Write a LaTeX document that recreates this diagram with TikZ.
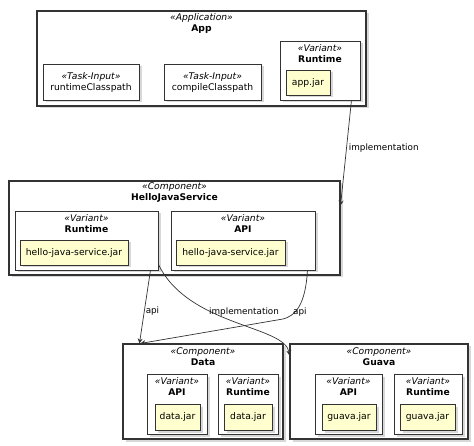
\documentclass[tikz,border=0pt]{standalone}
\usepackage{fontspec}
\setmainfont{DejaVu Sans}
\usetikzlibrary{arrows.meta,shadows,calc}
\definecolor{umlborder}{HTML}{333333}
\definecolor{jarfill}{HTML}{FEFECE}
\begin{document}
\begin{tikzpicture}[x=1pt,y=-1pt,
  every node/.style={font=\fontsize{9.2}{11}\selectfont},
  boxshadow/.style={drop shadow={shadow xshift=2.5pt,shadow yshift=-2.5pt,fill=black!30,opacity=0.5}},
  container/.style={draw=umlborder,line width=1.1pt,fill=white,inner sep=0pt,boxshadow},
  variant/.style={draw=umlborder,line width=0.9pt,fill=white,inner sep=0pt,boxshadow},
  taskbox/.style={draw=umlborder,line width=0.9pt,fill=white,inner sep=0pt,align=center,boxshadow},
  jar/.style={draw=umlborder,line width=0.8pt,fill=jarfill,inner sep=0pt,boxshadow},
  title/.style={align=center,inner sep=0pt},
  dep/.style={draw=umlborder,line width=0.7pt,-{Stealth[length=5pt,width=5pt]}},
  deplabel/.style={font=\fontsize{8.8}{10}\selectfont,inner sep=1pt}
]
\useasboundingbox (0,0) rectangle (474,446);

% App
\node[container,minimum width=329pt,minimum height=95pt] (app) at (201.5,58.5) {};
\node[title] (appT) at (201.5,23.5) {\textit{«Application»}\\\textbf{App}};
\node[taskbox,minimum width=96pt,minimum height=36pt] (rcp) at (91,82) {\textit{«Task-Input»}\\runtimeClasspath};
\node[taskbox,minimum width=97pt,minimum height=36pt] (ccp) at (212.5,82) {\textit{«Task-Input»}\\compileClasspath};
\node[variant,minimum width=80pt,minimum height=59pt] (appRT) at (320,70.5) {};
\node[title] (appRTT) at (320,53.5) {\textit{«Variant»}\\\textbf{Runtime}};
\node[jar,minimum width=44pt,minimum height=25pt] (appjar) at (308,82.5) {app.jar};

% HelloJavaService
\node[container,minimum width=331pt,minimum height=94pt] (hjs) at (174.5,228) {};
\node[title] (hjsT) at (174.5,193) {\textit{«Component»}\\\textbf{HelloJavaService}};
\node[variant,minimum width=143pt,minimum height=59pt] (hjsRT) at (86.5,240.5) {};
\node[title] (hjsRTT) at (86.5,223.5) {\textit{«Variant»}\\\textbf{Runtime}};
\node[jar,minimum width=108pt,minimum height=25pt] (hjsRTjar) at (74,252.5) {hello-java-service.jar};
\node[variant,minimum width=144pt,minimum height=59pt] (hjsAPI) at (243,240.5) {};
\node[title] (hjsAPIT) at (243,223.5) {\textit{«Variant»}\\\textbf{API}};
\node[jar,minimum width=109pt,minimum height=25pt] (hjsAPIjar) at (230.5,252.5) {hello-java-service.jar};

% Data
\node[container,minimum width=160pt,minimum height=95pt] (data) at (203,391.5) {};
\node[title] (dataT) at (203,357) {\textit{«Component»}\\\textbf{Data}};
\node[variant,minimum width=60pt,minimum height=60pt] (dataAPI) at (177,404) {};
\node[title] (dataAPIT) at (177,386.5) {\textit{«Variant»}\\\textbf{API}};
\node[jar,minimum width=45pt,minimum height=26pt] (dataAPIjar) at (177.5,417) {data.jar};
\node[variant,minimum width=60pt,minimum height=60pt] (dataRT) at (248,404) {};
\node[title] (dataRTT) at (248,386.5) {\textit{«Variant»}\\\textbf{Runtime}};
\node[jar,minimum width=48pt,minimum height=26pt] (dataRTjar) at (248,417) {data.jar};

% Guava
\node[container,minimum width=178pt,minimum height=95pt] (guava) at (379,391.5) {};
\node[title] (guavaT) at (379,357) {\textit{«Component»}\\\textbf{Guava}};
\node[variant,minimum width=67pt,minimum height=60pt] (guavaAPI) at (348.5,404) {};
\node[title] (guavaAPIT) at (348.5,386.5) {\textit{«Variant»}\\\textbf{API}};
\node[jar,minimum width=54pt,minimum height=26pt] (guavaAPIjar) at (349,417) {guava.jar};
\node[variant,minimum width=68pt,minimum height=60pt] (guavaRT) at (428,404) {};
\node[title] (guavaRTT) at (428,386.5) {\textit{«Variant»}\\\textbf{Runtime}};
\node[jar,minimum width=55pt,minimum height=26pt] (guavaRTjar) at (427.5,417) {guava.jar};

% dependencies
\draw[dep] ([xshift=-9pt]appRT.south east) -- node[deplabel,pos=0.45,anchor=west,xshift=1pt] {implementation} ([yshift=-25pt]hjs.north east);
\draw[dep] ([xshift=-8pt]hjsRT.south east) -- node[deplabel,pos=0.55,anchor=west] {api} ([xshift=17pt]data.north west);
\draw[dep] ([yshift=6pt]hjsRT.south east) .. controls +(30,62) and +(-4,-30) .. ([yshift=-12pt]guava.north west);
\node[deplabel,anchor=west] (implLbl) at (208,312) {implementation};
\coordinate (apibend) at (283,319);
\draw[dep] ([xshift=-8pt]hjsAPI.south east) .. controls +(-2,35) and +(12,-3) .. (apibend) -- ([xshift=18pt]data.north west);
\node[deplabel,anchor=west] (apiLbl2) at (292,312) {api};
\end{tikzpicture}
\end{document}
